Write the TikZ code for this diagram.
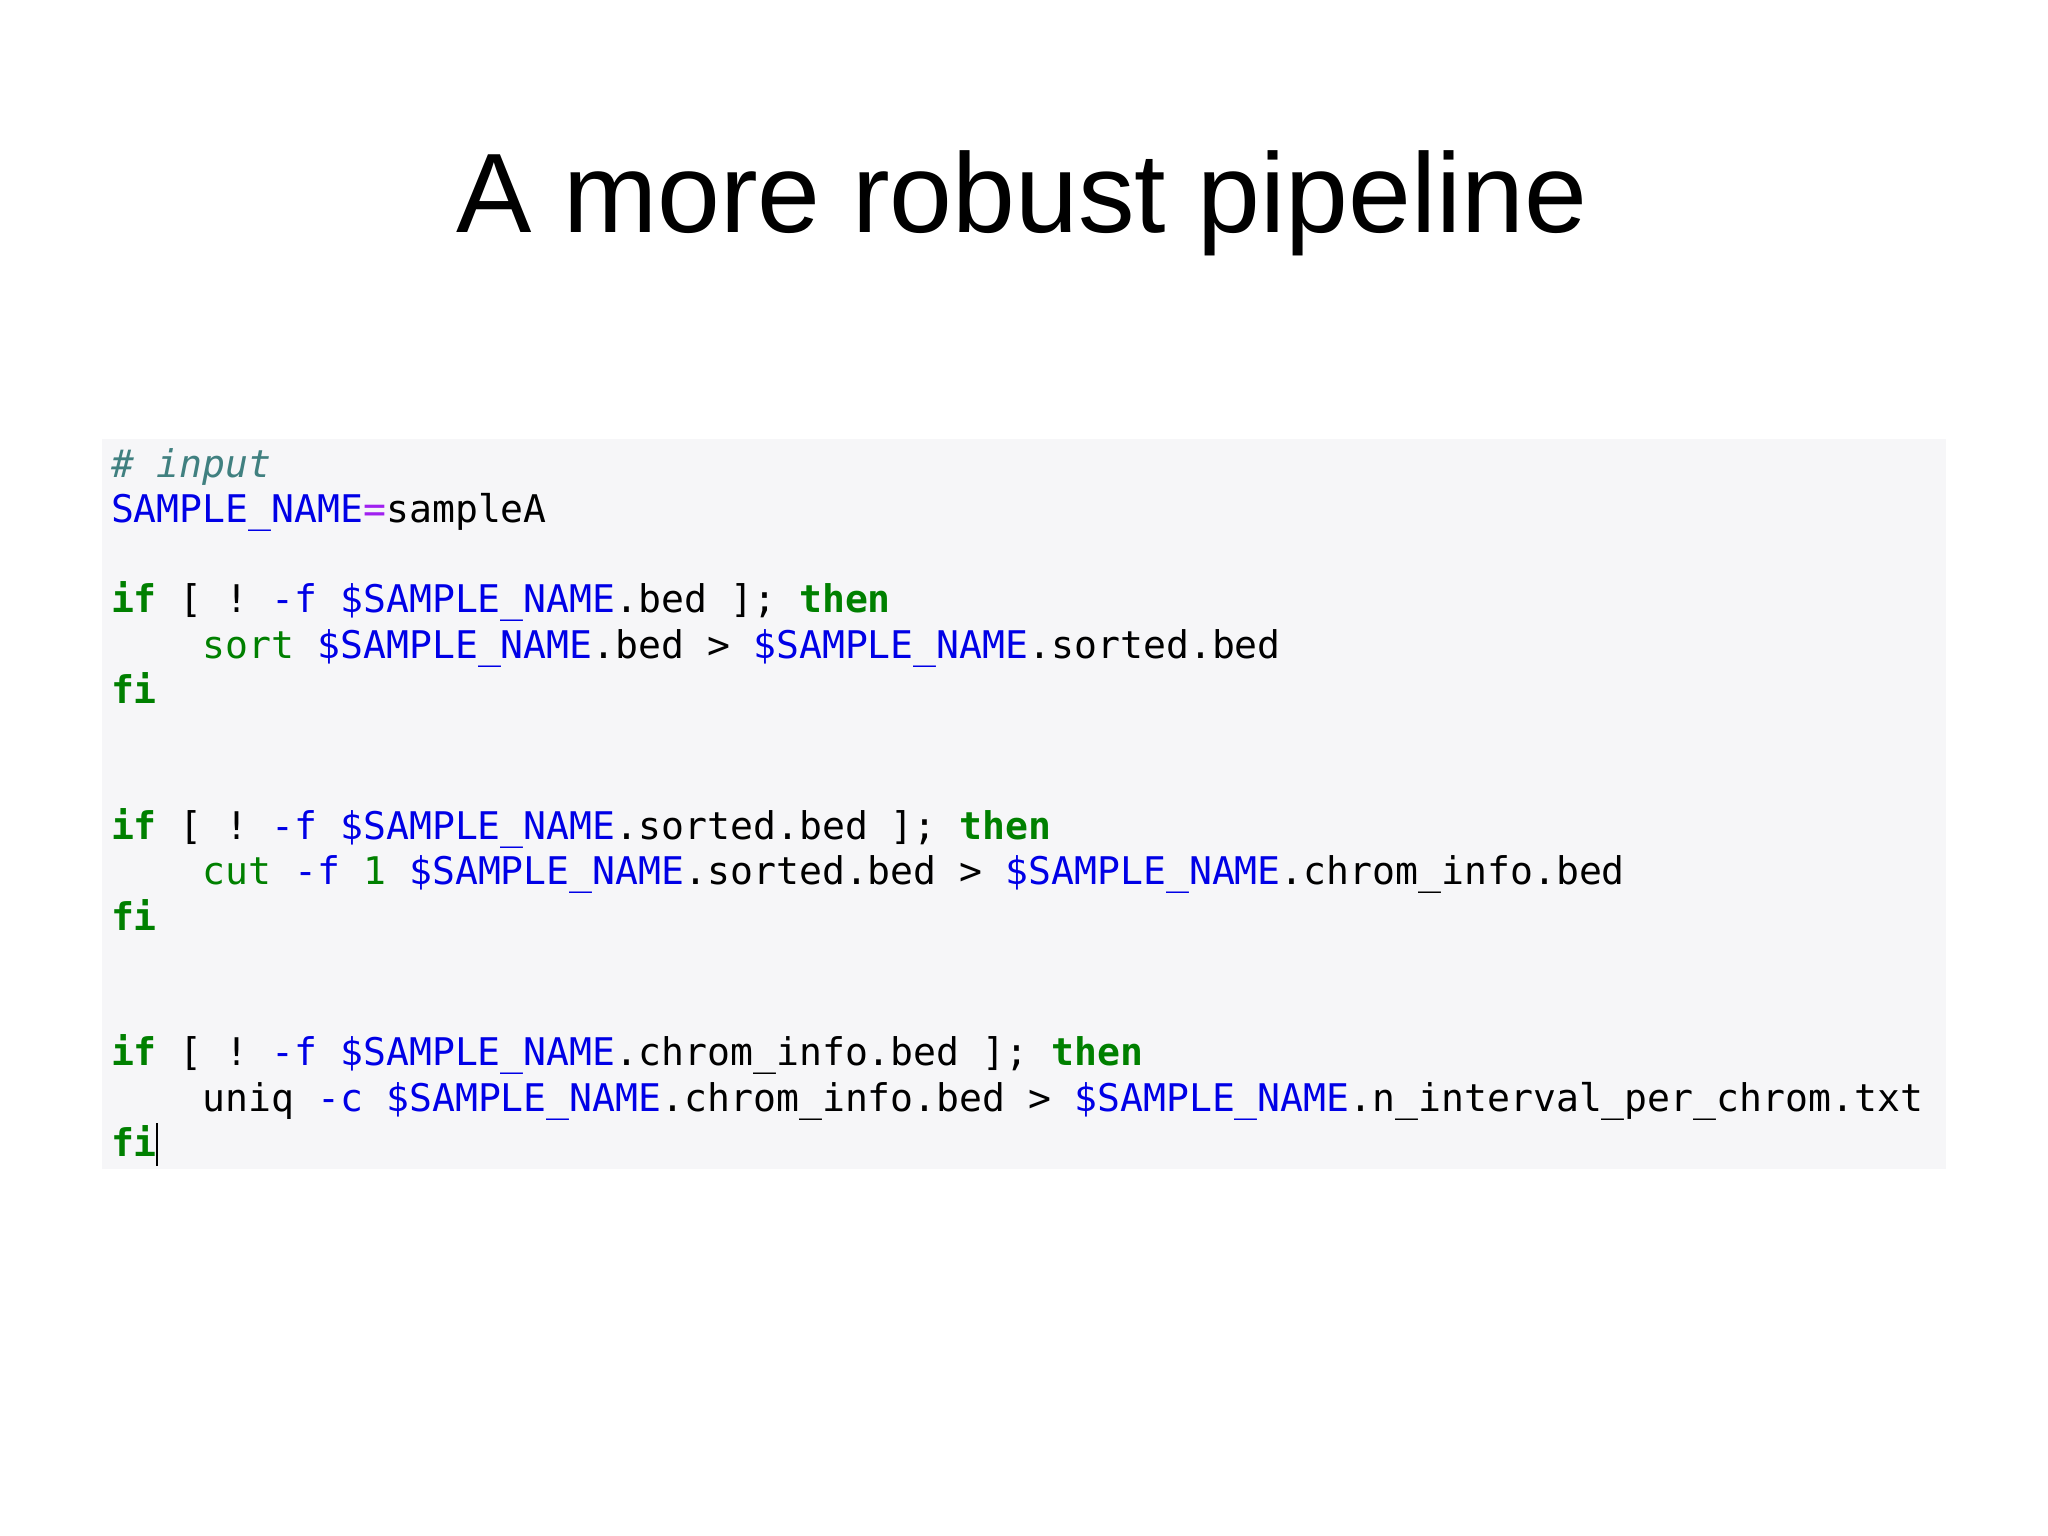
\documentclass[tikz,border=0pt]{standalone}
\usepackage{fontspec}
\setmainfont{Liberation Sans}
\newfontfamily\codefont[Ligatures=NoCommon]{DejaVu Sans Mono}
\definecolor{cmt}{RGB}{64,128,128}
\definecolor{var}{RGB}{0,0,230}
\definecolor{kw}{RGB}{0,128,0}
\definecolor{eqc}{RGB}{160,32,240}
\definecolor{panel}{RGB}{246,246,248}
\newcommand{\V}[1]{\textcolor{var}{#1}}
\newcommand{\K}[1]{\textcolor{kw}{\bfseries #1}}
\newcommand{\G}[1]{\textcolor{kw}{#1}}
\newcommand{\SN}{\V{\$SAMPLE\_NAME}}
\begin{document}
\begin{tikzpicture}[x=1pt,y=-1pt,
  codeline/.style={anchor=base west,inner sep=0pt,outer sep=0pt,
    font=\codefont\fontsize{38.1}{45}\selectfont\frenchspacing,text=black},
  titletext/.style={anchor=base,inner sep=0pt,font=\fontsize{113}{136}\selectfont}]
\useasboundingbox (0,0) rectangle (2048,1535);
\fill[white] (0,0) rectangle (2048,1535);
\node[titletext] (title) at (1022,232) {A more robust pipeline};
\fill[panel] (102,439) rectangle (1946,1169);
\def\cx{111}
\def\cw{22.94}
\def\lh{45.3}
\def\yz{477}
\node[codeline] (l0) at (\cx,\yz) {\textcolor{cmt}{\itshape \# input}};
\node[codeline] (l1) at (\cx,\yz+\lh) {\V{SAMPLE\_NAME}\textcolor{eqc}{=}sampleA};
\node[codeline] (l3) at (\cx,\yz+3*\lh) {\K{if} [ ! \V{-f} \SN.bed ]; \K{then}};
\node[codeline] (l4) at (\cx+4*\cw,\yz+4*\lh) {\G{sort} \SN.bed > \SN.sorted.bed};
\node[codeline] (l5) at (\cx,\yz+5*\lh) {\K{fi}};
\node[codeline] (l8) at (\cx,\yz+8*\lh) {\K{if} [ ! \V{-f} \SN.sorted.bed ]; \K{then}};
\node[codeline] (l9) at (\cx+4*\cw,\yz+9*\lh) {\G{cut} \V{-f} \G{1} \SN.sorted.bed > \SN.chrom\_info.bed};
\node[codeline] (l10) at (\cx,\yz+10*\lh) {\K{fi}};
\node[codeline] (l13) at (\cx,\yz+13*\lh) {\K{if} [ ! \V{-f} \SN.chrom\_info.bed ]; \K{then}};
\node[codeline] (l14) at (\cx+4*\cw,\yz+14*\lh) {uniq \V{-c} \SN.chrom\_info.bed > \SN.n\_interval\_per\_chrom.txt};
\node[codeline] (l15) at (\cx,\yz+15*\lh) {\K{fi}};
\coordinate (curtop) at (\cx+2*\cw,1123);
\coordinate (curbot) at (\cx+2*\cw,1166);
\draw[black,line width=1.6pt] (curtop) -- (curbot);
\end{tikzpicture}
\end{document}
